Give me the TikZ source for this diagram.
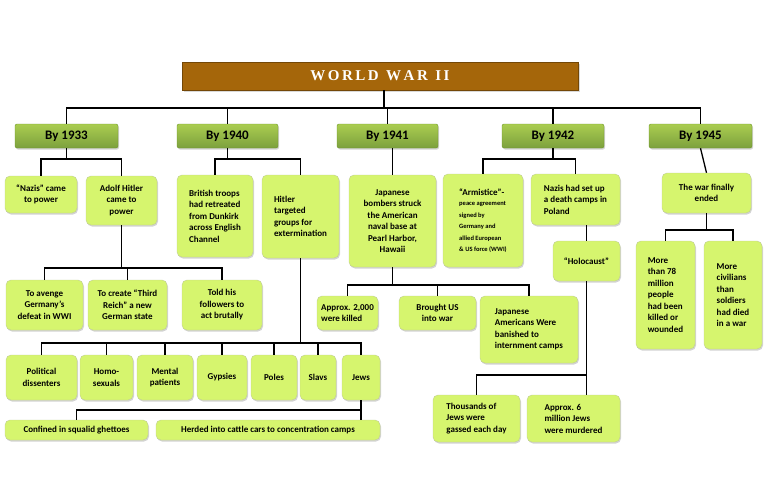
\documentclass[tikz,border=0pt]{standalone}
\usepackage{fontspec}
\setmainfont{Carlito}
\newfontfamily\titlefont{Liberation Serif}
\usetikzlibrary{shadows}
\definecolor{lg}{RGB}{214,245,110}
\definecolor{yg1}{RGB}{170,205,80}
\definecolor{yg2}{RGB}{110,150,40}
\definecolor{br}{RGB}{165,102,10}
\tikzset{
 gbox/.style={draw=lg!70!black!60,line width=0.4pt,fill=lg,rounded corners=5pt,inner sep=2pt,font=\bfseries\fontsize{9}{11.5}\selectfont,drop shadow={opacity=0.35,shadow xshift=1pt,shadow yshift=-1.5pt}},
 ybox/.style={draw=yg2,top color=yg1,bottom color=yg2!90,rounded corners=2pt,font=\bfseries\fontsize{13}{15}\selectfont,drop shadow={opacity=0.35,shadow xshift=1pt,shadow yshift=-1.5pt}},
 ln/.style={line width=1.3pt,black}
}
\newcommand\bx[7][center]{\node[gbox,align=#1,minimum width={(#5-#3)*1pt},minimum height={(#6-#4)*1pt}] (#2) at ({(#3+#5)/2},{(#4+#6)/2}) {#7};}
\newcommand\yb[4]{\node[ybox,minimum width={(#4-#3)*1pt},minimum height=24pt] (#1) at ({(#3+#4)/2},136) {#2};}
\begin{document}
\begin{tikzpicture}[x=1pt,y=-1pt]
\useasboundingbox (0,0) rectangle (768,503);
\node[fill=br,draw=br!70!black,minimum width=396pt,minimum height=28pt,text=white,font=\titlefont\bfseries\fontsize{15}{17}\selectfont,drop shadow={opacity=0.3}] (title) at (380,76) {W\,O\,R\,L\,D\ \ W\,A\,R\ \ I\,I};
\coordinate (tb) at (384,90);
\yb{y33}{By 1933}{15}{118}
\yb{y40}{By 1940}{177}{278}
\yb{y41}{By 1941}{337}{438}
\yb{y42}{By 1942}{502}{604}
\yb{y45}{By 1945}{649}{752}
% 1933
\bx{nazis}{5}{176}{77}{213}{“Nazis” came\\to power}
\bx{adolf}{86}{176}{157}{225}{Adolf Hitler\\came to\\power}
\bx{avenge}{6}{280}{83}{330}{To avenge\\Germany’s\\defeat in WWI}
\bx{reich}{88}{280}{167}{330}{To create “Third\\Reich” a new\\German state}
\bx{told}{182}{280}{262}{330}{Told his\\followers to\\act brutally}
% 1940
\bx[left]{brit}{177}{175}{253}{257}{British troops\\had retreated\\from Dunkirk\\across English\\Channel}
\bx[left]{target}{262}{175}{339}{258}{Hitler\\targeted\\groups for\\extermination}
\bx{pol}{6}{355}{77}{400}{Political\\dissenters}
\bx{homo}{80}{355}{133}{400}{Homo-\\sexuals}
\bx{ment}{137}{355}{193}{400}{Mental\\patients}
\bx{gyp}{197}{355}{247}{400}{Gypsies}
\bx{poles}{251}{355}{297}{400}{Poles}
\bx{slavs}{300}{355}{336}{400}{Slavs}
\bx{jews}{342}{355}{380}{400}{Jews}
\bx{conf}{5}{420}{148}{440}{Confined in squalid ghettoes}
\bx{herd}{156}{420}{380}{440}{Herded into cattle cars to concentration camps}
% 1941
\bx{pearl}{349}{175}{436}{267}{Japanese\\bombers struck\\the American\\naval base at\\Pearl Harbor,\\Hawaii}
\bx[left]{appr}{317}{296}{378}{330}{Approx. 2,000\\were killed}
\bx{brought}{399}{296}{476}{330}{Brought US\\into war}
\bx[left]{japam}{480}{296}{578}{363}{Japanese\\Americans Were\\banished to\\internment camps}
% 1942
\bx[left]{armi}{443}{174}{523}{267}{{\fontsize{9}{11}\selectfont “Armistice”-}\\[-1pt]{\fontsize{6.5}{9}\selectfont peace agreement}\\{\fontsize{6.5}{9}\selectfont signed by}\\{\fontsize{6.5}{9}\selectfont Germany and}\\{\fontsize{6.5}{9}\selectfont allied European}\\{\fontsize{6.5}{9}\selectfont \& US force (WWI)}}
\bx[left]{camps}{531}{174}{620}{225}{Nazis had set up\\a death camps in\\Poland}
\bx{holo}{553}{241}{620}{281}{“Holocaust”}
\bx[left]{thou}{433}{395}{520}{442}{Thousands of\\Jews were\\gassed each day}
\bx[left]{six}{527}{395}{620}{442}{Approx. 6\\million Jews\\were murdered}
% 1945
\bx{ended}{662}{173}{751}{213}{The war finally\\ended}
\bx[left]{more}{636}{241}{695}{349}{More\\than 78\\million\\people\\had been\\killed or\\wounded}
\bx[left]{civ}{704}{241}{762}{349}{More\\civilians\\than\\soldiers\\had died\\in a war}
% connectors
\foreach \c in {y33,y40,y41,y42,y45}{\draw[ln] (tb) -- (384,108) -| (\c.north);}
\foreach \c in {nazis,adolf}{\draw[ln] (y33.south) -- (y33.south |- 0,159) -| (\c.north);}
\foreach \c in {avenge,reich,told}{\draw[ln] (adolf.south) -- (adolf.south |- 0,268) -| (\c.north);}
\foreach \c in {brit,target}{\draw[ln] (y40.south) -- (y40.south |- 0,159) -| (\c.north);}
\foreach \c in {pol,homo,ment,gyp,poles,slavs,jews}{\draw[ln] (target.south) -- (target.south |- 0,343) -| (\c.north);}
\draw[ln] (jews.south) -- (jews.south |- 0,410) -| (conf.north);
\draw[ln] (jews.south) -- (jews.south |- herd.north);
\draw[ln] (y41.south -| pearl.north) -- (pearl.north);
\foreach \c in {appr,brought,japam}{\draw[ln] (pearl.south) -- (pearl.south |- 0,285) -| (\c.north);}
\foreach \c in {armi,camps}{\draw[ln] (y42.south) -- (y42.south |- 0,159) -| (\c.north);}
\draw[ln] (holo.north |- camps.south) -- (holo.north);
\draw[ln] (holo.south) -- (holo.south |- 0,375) -| (thou.north);
\draw[ln] (holo.south) -- (holo.south |- six.north);
\draw[ln] (y45.south) -- (ended.north);
\foreach \c in {more,civ}{\draw[ln] (ended.south) -- (ended.south |- 0,230) -| (\c.north);}
\end{tikzpicture}
\end{document}
